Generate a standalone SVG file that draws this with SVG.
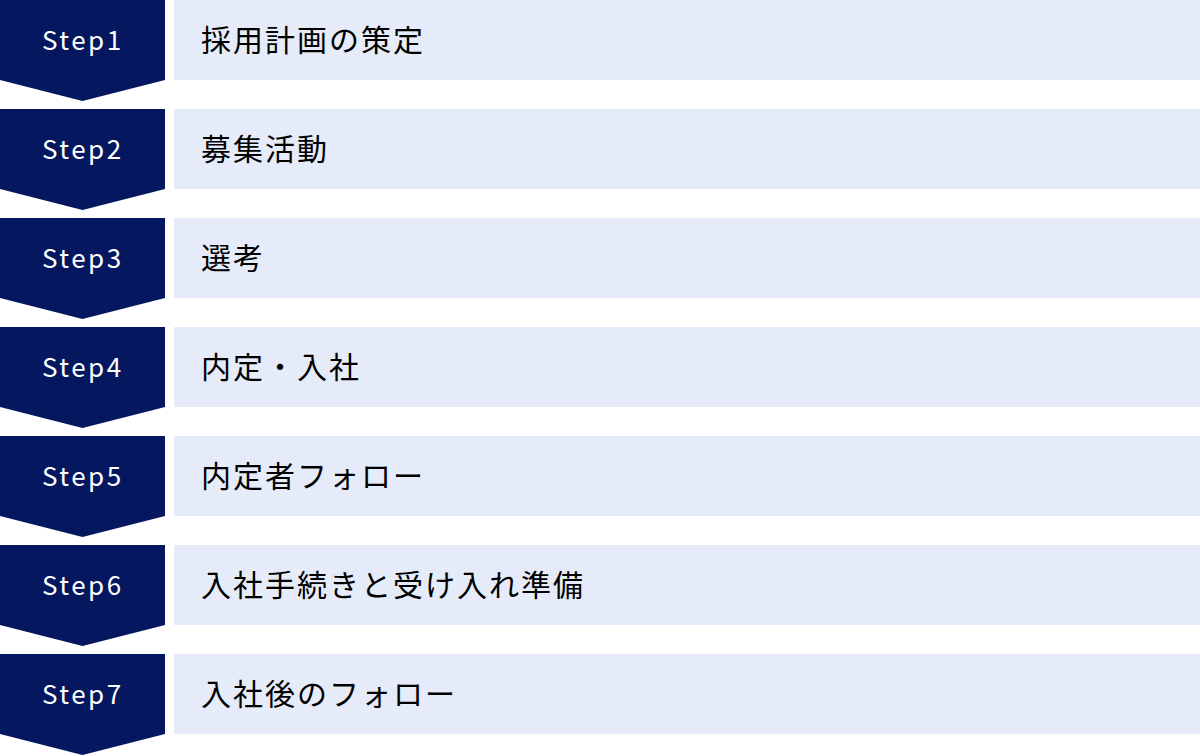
<svg xmlns="http://www.w3.org/2000/svg" width="1200" height="756" viewBox="0 0 1200 756">
<style>
.arrow{fill:#04175F}
.box{fill:#E5EBF8}
.step{fill:#FFFFFF;font-family:"Noto Sans CJK JP","Noto Sans",sans-serif;font-size:26px;letter-spacing:2.5px}
.label{fill:#000000;font-family:"Noto Sans CJK JP","Noto Sans",sans-serif;font-size:30px;letter-spacing:2px}
</style>
<defs>
<path id="chev" d="M0 0H165V80L82.5 101L0 80Z"/>
</defs>
<rect width="1200" height="756" fill="#FFFFFF"/>
<g id="step1" transform="translate(0,0)"><use href="#chev" class="arrow"/><text class="step" x="42" y="50">Step1</text><rect class="box" x="174" y="0" width="1026" height="80"/><text class="label" x="201" y="51">採用計画の策定</text></g>
<g id="step2" transform="translate(0,109)"><use href="#chev" class="arrow"/><text class="step" x="42" y="50">Step2</text><rect class="box" x="174" y="0" width="1026" height="80"/><text class="label" x="201" y="51">募集活動</text></g>
<g id="step3" transform="translate(0,218)"><use href="#chev" class="arrow"/><text class="step" x="42" y="50">Step3</text><rect class="box" x="174" y="0" width="1026" height="80"/><text class="label" x="201" y="51">選考</text></g>
<g id="step4" transform="translate(0,327)"><use href="#chev" class="arrow"/><text class="step" x="42" y="50">Step4</text><rect class="box" x="174" y="0" width="1026" height="80"/><text class="label" x="201" y="51">内定・入社</text></g>
<g id="step5" transform="translate(0,436)"><use href="#chev" class="arrow"/><text class="step" x="42" y="50">Step5</text><rect class="box" x="174" y="0" width="1026" height="80"/><text class="label" x="201" y="51">内定者フォロー</text></g>
<g id="step6" transform="translate(0,545)"><use href="#chev" class="arrow"/><text class="step" x="42" y="50">Step6</text><rect class="box" x="174" y="0" width="1026" height="80"/><text class="label" x="201" y="51">入社手続きと受け入れ準備</text></g>
<g id="step7" transform="translate(0,654)"><use href="#chev" class="arrow"/><text class="step" x="42" y="50">Step7</text><rect class="box" x="174" y="0" width="1026" height="80"/><text class="label" x="201" y="51">入社後のフォロー</text></g>
<g id="connectors"></g>
</svg>
